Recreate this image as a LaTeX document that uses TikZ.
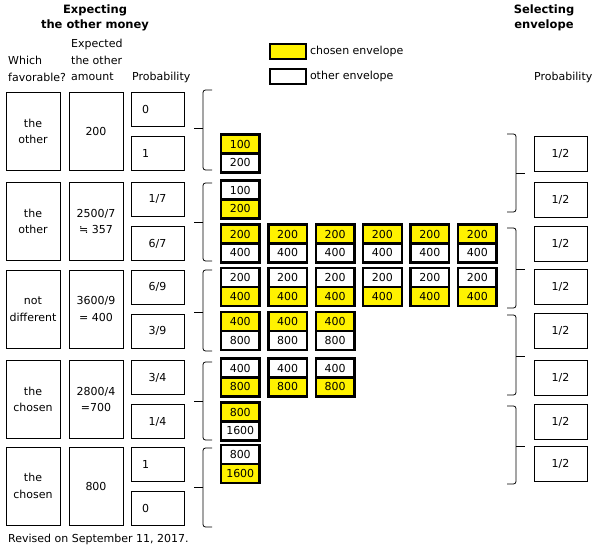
\documentclass[tikz,border=0pt]{standalone}
\usepackage{fontspec}
\setmainfont{DejaVu Sans}
\usetikzlibrary{positioning, shapes.multipart}

\begin{document}
\begin{tikzpicture}[
    x=1pt, y=-1pt,
    font=\fontsize{11}{16.5}\selectfont,
    bigbox/.style={draw, line width=0.9pt, minimum width=54pt, minimum height=78pt,
        inner sep=0pt, outer sep=0pt, align=center},
    probbox/.style={draw, line width=0.9pt, minimum width=53pt, minimum height=34pt,
        inner sep=0pt, outer sep=0pt, align=center},
    probleft/.style={text width=31pt, inner xsep=11pt, align=left},
    env/.style={rectangle split, rectangle split parts=2, draw, line width=2.4pt,
        minimum width=38.5pt, inner xsep=0pt, inner ysep=4.1pt, outer sep=0pt,
        font=\fontsize{11}{12}\selectfont},
    chosenup/.style={env, rectangle split part fill={yellow,white}},
    chosendown/.style={env, rectangle split part fill={white,yellow}},
    legbox/.style={draw, line width=2.4pt, minimum width=35.6pt, minimum height=14.6pt,
        inner sep=0pt, outer sep=0pt},
    head/.style={align=center, font=\fontsize{11.5}{15}\selectfont\bfseries},
    colhead/.style={align=left, inner sep=0pt, anchor=north west},
    brace/.style={line width=0.8pt, rounded corners=2.5pt}
]
\useasboundingbox (0,0) rectangle (596,548);

% headings
\node[head] (hexp) at (95,17.5) {Expecting\\the other money};
\node[head] (hsel) at (544,17.5) {Selecting\\envelope};
\node[colhead] (hfav) at (8,56) {Which\\favorable?};
\node[colhead] (hamt) at (71,39) {Expected\\the other\\amount};
\node[colhead] (hprob) at (132,72) {Probability};
\node[colhead] (hsprob) at (534,72) {Probability};

% legend
\node[legbox, fill=yellow] (legc) at (288,51.5) {};
\node[legbox, fill=white, below=10.4pt of legc] (lego) {};
\node[right=4pt of legc, inner sep=0pt] (legct) {chosen envelope};
\node[right=4pt of lego, inner sep=0pt] (legot) {other envelope};

% expecting the other money
\node[bigbox] (fav1) at (33,131.5) {the\\other};
\node[bigbox, right=9pt of fav1] (amt1) {200};
\node[probbox, probleft, anchor=north west] (p1a) at ([xshift=8pt]amt1.north east) {0};
\node[probbox, probleft, anchor=south west] (p1b) at ([xshift=8pt]amt1.south east) {1};

\node[bigbox] (fav2) at (33,221.5) {the\\other};
\node[bigbox, right=9pt of fav2] (amt2) {2500/7\\≒ 357};
\node[probbox, anchor=north west] (p2a) at ([xshift=8pt]amt2.north east) {1/7};
\node[probbox, anchor=south west] (p2b) at ([xshift=8pt]amt2.south east) {6/7};

\node[bigbox] (fav3) at (33,309) {not\\different};
\node[bigbox, right=9pt of fav3] (amt3) {3600/9\\= 400};
\node[probbox, anchor=north west] (p3a) at ([xshift=8pt]amt3.north east) {6/9};
\node[probbox, anchor=south west] (p3b) at ([xshift=8pt]amt3.south east) {3/9};

\node[bigbox] (fav4) at (33,399.5) {the\\chosen};
\node[bigbox, right=9pt of fav4] (amt4) {2800/4\\=700};
\node[probbox, anchor=north west] (p4a) at ([xshift=8pt]amt4.north east) {3/4};
\node[probbox, anchor=south west] (p4b) at ([xshift=8pt]amt4.south east) {1/4};

\node[bigbox] (fav5) at (33,486) {the\\chosen};
\node[bigbox, right=9pt of fav5] (amt5) {800};
\node[probbox, probleft, anchor=north west] (p5a) at ([xshift=8pt]amt5.north east) {1};
\node[probbox, probleft, anchor=south west] (p5b) at ([xshift=8pt]amt5.south east) {0};

% envelope pairs
\node[chosenup, right=37pt of p1b] (ra) {100\nodepart{two}200};
\node[chosendown, right=37pt of p2a] (rb) {100\nodepart{two}200};
\node[chosenup, right=37pt of p2b] (rc1) {200\nodepart{two}400};
\foreach \i [remember=\i as \j (initially 1)] in {2,...,6}
    \node[chosenup, right=8.9pt of rc\j] (rc\i) {200\nodepart{two}400};
\node[chosendown, right=37pt of p3a] (rd1) {200\nodepart{two}400};
\foreach \i [remember=\i as \j (initially 1)] in {2,...,6}
    \node[chosendown, right=8.9pt of rd\j] (rd\i) {200\nodepart{two}400};
\node[chosenup, right=37pt of p3b] (re1) {400\nodepart{two}800};
\foreach \i [remember=\i as \j (initially 1)] in {2,3}
    \node[chosenup, right=8.9pt of re\j] (re\i) {400\nodepart{two}800};
\node[chosendown, right=37pt of p4a] (rf1) {400\nodepart{two}800};
\foreach \i [remember=\i as \j (initially 1)] in {2,3}
    \node[chosendown, right=8.9pt of rf\j] (rf\i) {400\nodepart{two}800};
\node[chosenup, right=37pt of p4b] (rg) {800\nodepart{two}1600};
\node[chosendown, right=37pt of p5a] (rh) {800\nodepart{two}1600};

% selecting envelope
\coordinate (sx) at (560.5,0);
\foreach \r/\s in {ra/sa, rb/sb, rc1/sc, rd1/sd, re1/se, rf1/sf, rg/sg, rh/sh}
    \node[probbox, minimum height=35pt] (\s) at (\r -| sx) {1/2};

% braces
\foreach \t/\b/\m in {90/170/128, 183/261/222, 270/351/312, 362/440/401, 448/527/487} {
    \draw[brace] (212,\t) -- (203,\t) -- (203,\b) -- (212,\b);
    \draw[brace] (203,\m) -- (194,\m);
}
\foreach \t/\b/\m in {134/212/173, 228/308/269, 315/395/356, 406/484/446} {
    \draw[brace] (507,\t) -- (516,\t) -- (516,\b) -- (507,\b);
    \draw[brace] (516,\m) -- (525,\m);
}

\node[anchor=west, inner sep=0pt] (rev) at (8,539) {Revised on September 11, 2017.};
\end{tikzpicture}
\end{document}
